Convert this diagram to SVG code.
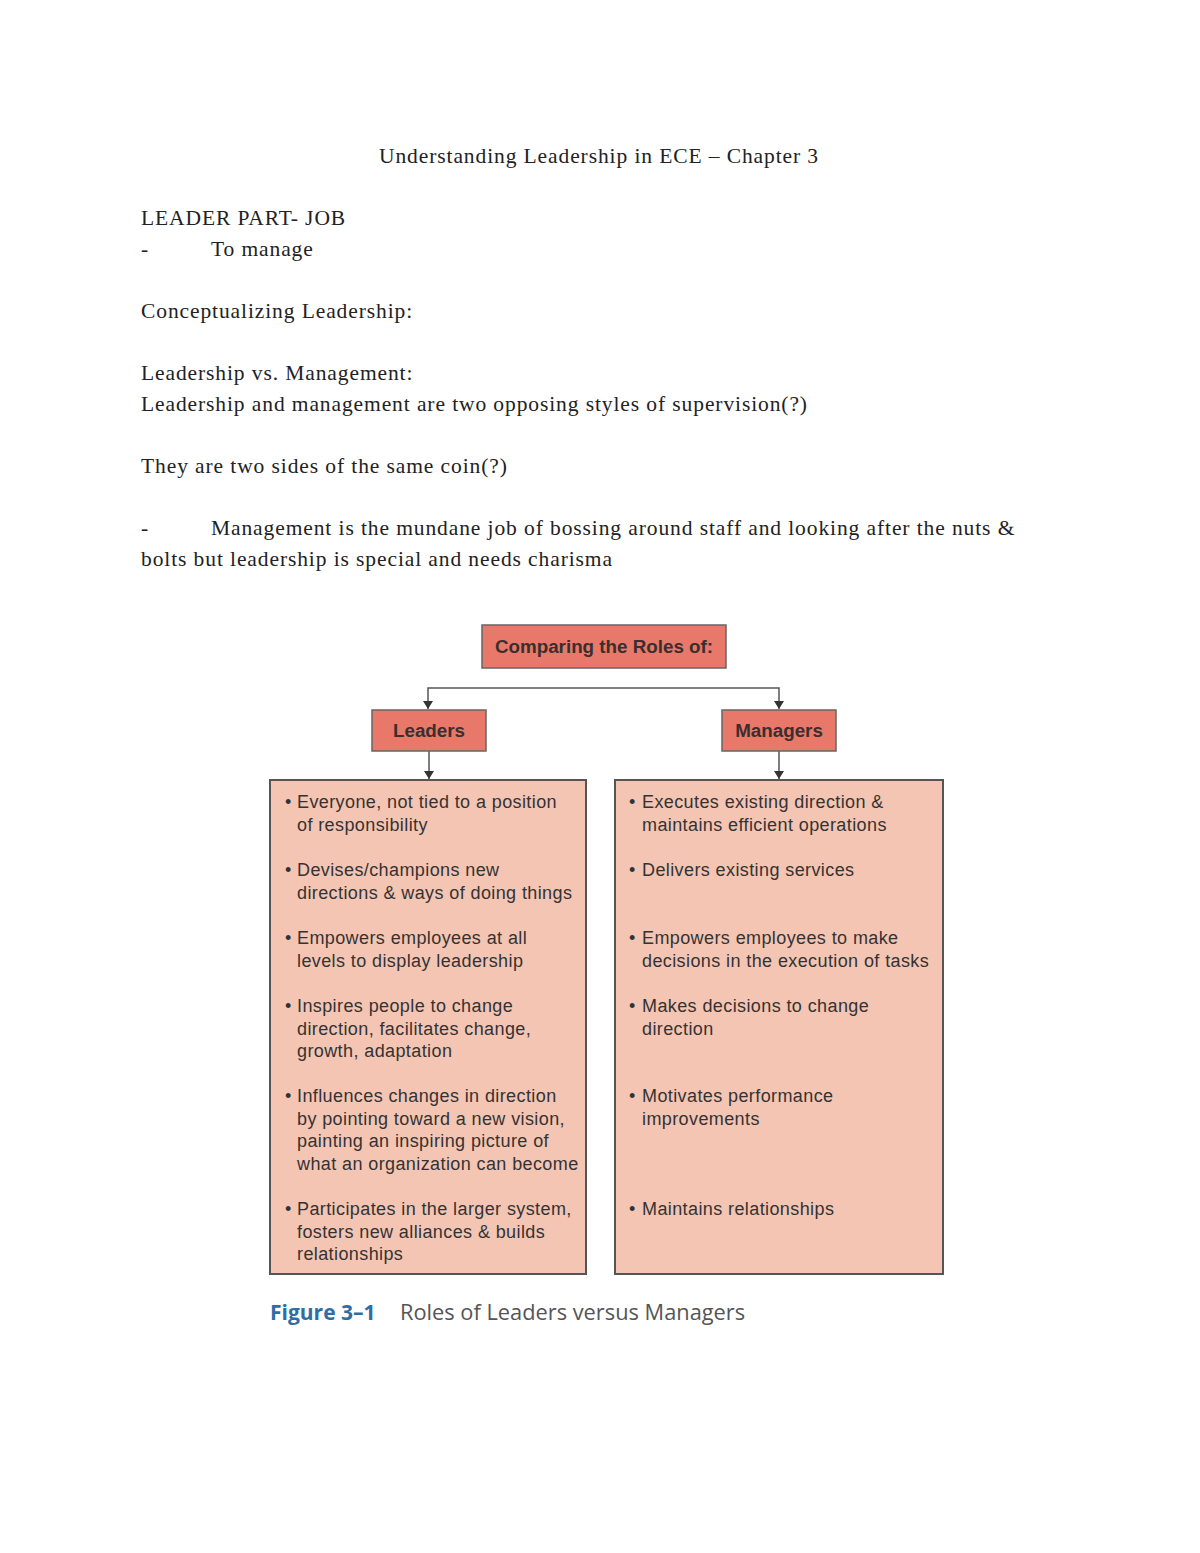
<svg xmlns="http://www.w3.org/2000/svg" width="1200" height="1553" viewBox="0 0 1200 1553">
<style>
.doc{font-family:"Liberation Serif","Times New Roman",serif;font-size:21.5px;letter-spacing:0.9px;fill:#222}
.hdr{fill:#e8796a;stroke:#666;stroke-width:1.5}
.box{fill:#f5c5b3;stroke:#555;stroke-width:2}
.ht{font-family:"Liberation Sans",Arial,sans-serif;font-size:18.8px;font-weight:bold;fill:#3a2e2e;text-anchor:middle}
.bt{font-family:"Liberation Sans",Arial,sans-serif;font-size:18px;letter-spacing:0.4px;fill:#333}
.conn{fill:none;stroke:#555;stroke-width:1.5}
.cap1{font-family:"Open Sans","Liberation Sans",sans-serif;font-size:21px;font-weight:bold;fill:#2f6ea3}
.cap2{font-family:"Open Sans","Liberation Sans",sans-serif;font-size:21.8px;fill:#555}
</style>
<defs>
<marker id="ah" markerWidth="8" markerHeight="10" refX="8" refY="5" orient="auto-start-reverse" markerUnits="userSpaceOnUse" viewBox="0 0 8 10">
<path d="M0,0 L8,5 L0,10 Z" fill="#333"/>
</marker>
</defs>
<rect width="1200" height="1553" fill="#fff"/>
<g id="doc-text">
<text class="doc" x="599" y="163" text-anchor="middle">Understanding Leadership in ECE – Chapter 3</text>
<text class="doc" x="141" y="225">LEADER PART- JOB</text>
<text class="doc" x="141" y="256">-</text>
<text class="doc" x="211" y="256">To manage</text>
<text class="doc" x="141" y="318">Conceptualizing Leadership:</text>
<text class="doc" x="141" y="380">Leadership vs. Management:</text>
<text class="doc" x="141" y="411">Leadership and management are two opposing styles of supervision(?)</text>
<text class="doc" x="141" y="473">They are two sides of the same coin(?)</text>
<text class="doc" x="141" y="535">-</text>
<text class="doc" x="211" y="535">Management is the mundane job of bossing around staff and looking after the nuts &amp;</text>
<text class="doc" x="141" y="566">bolts but leadership is special and needs charisma</text>
</g>
<g id="connectors">
<path class="conn" d="M428,709 L428,688 L779,688 L779,709" marker-start="url(#ah)" marker-end="url(#ah)"/>
<line class="conn" x1="429" y1="751" x2="429" y2="779" marker-end="url(#ah)"/>
<line class="conn" x1="779" y1="751" x2="779" y2="779" marker-end="url(#ah)"/>
</g>
<g id="node-comparing">
<rect class="hdr" x="482" y="625" width="244" height="43"/>
<text class="ht" x="604" y="653">Comparing the Roles of:</text>
</g>
<g id="node-leaders">
<rect class="hdr" x="372" y="710" width="114" height="41"/>
<text class="ht" x="429" y="737">Leaders</text>
</g>
<g id="node-managers">
<rect class="hdr" x="722" y="710" width="114" height="41"/>
<text class="ht" x="779" y="737">Managers</text>
</g>
<g id="node-leaders-list">
<rect class="box" x="270" y="780" width="316" height="494"/>
<g class="bt">
<text x="285" y="808">•</text><text x="297" y="808">Everyone, not tied to a position</text>
<text x="297" y="831">of responsibility</text>
<text x="285" y="876">•</text><text x="297" y="876">Devises/champions new</text>
<text x="297" y="899">directions &amp; ways of doing things</text>
<text x="285" y="944">•</text><text x="297" y="944">Empowers employees at all</text>
<text x="297" y="967">levels to display leadership</text>
<text x="285" y="1012">•</text><text x="297" y="1012">Inspires people to change</text>
<text x="297" y="1035">direction, facilitates change,</text>
<text x="297" y="1057">growth, adaptation</text>
<text x="285" y="1102">•</text><text x="297" y="1102">Influences changes in direction</text>
<text x="297" y="1125">by pointing toward a new vision,</text>
<text x="297" y="1147">painting an inspiring picture of</text>
<text x="297" y="1170">what an organization can become</text>
<text x="285" y="1215">•</text><text x="297" y="1215">Participates in the larger system,</text>
<text x="297" y="1238">fosters new alliances &amp; builds</text>
<text x="297" y="1260">relationships</text>
</g>
</g>
<g id="node-managers-list">
<rect class="box" x="615" y="780" width="328" height="494"/>
<g class="bt">
<text x="629" y="808">•</text><text x="642" y="808">Executes existing direction &amp;</text>
<text x="642" y="831">maintains efficient operations</text>
<text x="629" y="876">•</text><text x="642" y="876">Delivers existing services</text>
<text x="629" y="944">•</text><text x="642" y="944">Empowers employees to make</text>
<text x="642" y="967">decisions in the execution of tasks</text>
<text x="629" y="1012">•</text><text x="642" y="1012">Makes decisions to change</text>
<text x="642" y="1035">direction</text>
<text x="629" y="1102">•</text><text x="642" y="1102">Motivates performance</text>
<text x="642" y="1125">improvements</text>
<text x="629" y="1215">•</text><text x="642" y="1215">Maintains relationships</text>
</g>
</g>
<g id="caption">
<text class="cap1" x="270" y="1320">Figure 3–1</text>
<text class="cap2" x="400" y="1320">Roles of Leaders versus Managers</text>
</g>
</svg>
